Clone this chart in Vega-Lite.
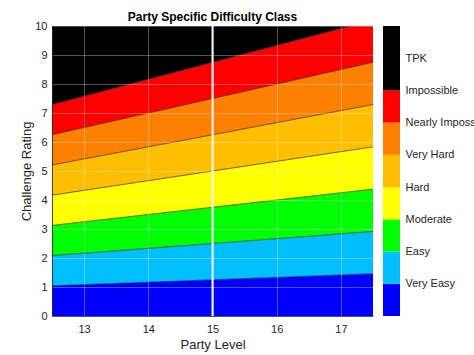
{
  "$schema": "https://vega.github.io/schema/vega-lite/v6.json",
  "background": "white",
  "padding": {"left": 20, "top": 11, "right": 0, "bottom": 4},
  "config": {
    "font": "Liberation Sans",
    "view": {"stroke": null},
    "axis": {"labelFont": "Liberation Sans", "titleFont": "Liberation Sans", "labelColor": "#262626", "titleColor": "#262626", "labelFontSize": 11, "titleFontSize": 13, "titleFontWeight": "normal", "labelOverlap": false}
  },
  "datasets": {
    "bands": [
      {"band": "Very Easy", "level": 12.5, "lo": 0, "hi": 1.0417},
      {"band": "Very Easy", "level": 17.5, "lo": 0, "hi": 1.4583},
      {"band": "Easy", "level": 12.5, "lo": 1.0417, "hi": 2.0833},
      {"band": "Easy", "level": 17.5, "lo": 1.4583, "hi": 2.9167},
      {"band": "Moderate", "level": 12.5, "lo": 2.0833, "hi": 3.125},
      {"band": "Moderate", "level": 17.5, "lo": 2.9167, "hi": 4.375},
      {"band": "Hard", "level": 12.5, "lo": 3.125, "hi": 4.1667},
      {"band": "Hard", "level": 17.5, "lo": 4.375, "hi": 5.8333},
      {"band": "Very Hard", "level": 12.5, "lo": 4.1667, "hi": 5.2083},
      {"band": "Very Hard", "level": 17.5, "lo": 5.8333, "hi": 7.2917},
      {"band": "Nearly Impossible", "level": 12.5, "lo": 5.2083, "hi": 6.25},
      {"band": "Nearly Impossible", "level": 17.5, "lo": 7.2917, "hi": 8.75},
      {"band": "Impossible", "level": 12.5, "lo": 6.25, "hi": 7.2917},
      {"band": "Impossible", "level": 17.5, "lo": 8.75, "hi": 10.2083},
      {"band": "TPK", "level": 12.5, "lo": 7.2917, "hi": 10},
      {"band": "TPK", "level": 17.143, "lo": 10, "hi": 10},
      {"band": "TPK", "level": 17.5, "lo": 10, "hi": 10}
    ],
    "scale": [
      {"band": "Very Easy", "lo": 0, "hi": 1, "tick": 1},
      {"band": "Easy", "lo": 1, "hi": 2, "tick": 2},
      {"band": "Moderate", "lo": 2, "hi": 3, "tick": 3},
      {"band": "Hard", "lo": 3, "hi": 4, "tick": 4},
      {"band": "Very Hard", "lo": 4, "hi": 5, "tick": 5},
      {"band": "Nearly Impossible", "lo": 5, "hi": 6, "tick": 6},
      {"band": "Impossible", "lo": 6, "hi": 7, "tick": 7},
      {"band": "TPK", "lo": 7, "hi": 9, "tick": 8}
    ],
    "marker": [{"level": 15}]
  },
  "hconcat": [
    {
      "width": 321,
      "height": 290,
      "title": {"text": "Party Specific Difficulty Class", "fontSize": 12, "fontWeight": "bold", "color": "#000000", "anchor": "middle", "offset": -4, "font": "Liberation Sans"},
      "data": {"name": "bands"},
      "encoding": {
        "x": {"field": "level", "type": "quantitative", "scale": {"domain": [12.5, 17.5], "nice": false, "zero": false},
              "axis": {"title": "Party Level", "values": [13, 14, 15, 16, 17], "format": "d", "grid": true, "gridColor": "#ffffff", "gridOpacity": 0.4, "gridWidth": 0.8, "zindex": 1, "ticks": false, "labelPadding": 7, "titlePadding": 4, "domainColor": "#262626", "domainWidth": 0.8, "labelOverlap": false}},
        "y": {"field": "hi", "type": "quantitative", "scale": {"domain": [0, 10], "nice": false},
              "axis": {"title": "Challenge Rating", "values": [0, 1, 2, 3, 4, 5, 6, 7, 8, 9, 10], "format": "d", "grid": true, "gridColor": "#ffffff", "gridOpacity": 0.4, "gridWidth": 0.8, "zindex": 1, "ticks": false, "labelPadding": 5, "titlePadding": 1, "domainColor": "#262626", "domainWidth": 0.8, "labelOverlap": false}}
      },
      "layer": [
        {
          "mark": {"type": "area", "clip": true, "interpolate": "linear"},
          "encoding": {
            "y2": {"field": "lo"},
            "color": {"field": "band", "type": "nominal", "legend": null,
                      "scale": {"domain": ["Very Easy", "Easy", "Moderate", "Hard", "Very Hard", "Nearly Impossible", "Impossible", "TPK"],
                                "range": ["#0000ff", "#00bfff", "#00ff00", "#ffff00", "#ffbf00", "#ff8000", "#ff0000", "#000000"]}},
            "detail": {"field": "band"}
          }
        },
        {
          "transform": [{"filter": "datum.band != 'TPK'"}],
          "mark": {"type": "line", "clip": true, "color": "#1a1a1a", "strokeWidth": 0.8, "opacity": 0.8},
          "encoding": {
            "detail": {"field": "band"}
          }
        },
        {
          "data": {"name": "marker"},
          "mark": {"type": "rule", "color": "#f2f2f2", "strokeWidth": 2},
          "encoding": {"x": {"field": "level", "type": "quantitative"}, "y": null}
        }
      ]
    },
    {
      "width": 17,
      "height": 290,
      "data": {"name": "scale"},
      "mark": {"type": "rect"},
      "encoding": {
        "y": {"field": "lo", "type": "quantitative", "scale": {"domain": [0, 9], "nice": false},
              "axis": {"orient": "right", "title": null, "values": [1, 2, 3, 4, 5, 6, 7, 8], "ticks": false, "domain": false, "grid": false, "labelPadding": 5, "labelFontSize": 11, "labelLimit": 0,
                       "labelExpr": "['', 'Very Easy', 'Easy', 'Moderate', 'Hard', 'Very Hard', 'Nearly Impossible', 'Impossible', 'TPK'][datum.value]"}},
        "y2": {"field": "hi"},
        "color": {"field": "band", "type": "nominal", "legend": null,
                  "scale": {"domain": ["Very Easy", "Easy", "Moderate", "Hard", "Very Hard", "Nearly Impossible", "Impossible", "TPK"],
                            "range": ["#0000ff", "#00bfff", "#00ff00", "#ffff00", "#ffbf00", "#ff8000", "#ff0000", "#000000"]}}
      }
    }
  ],
  "spacing": 10,
  "resolve": {"scale": {"color": "independent", "y": "independent"}}
}
